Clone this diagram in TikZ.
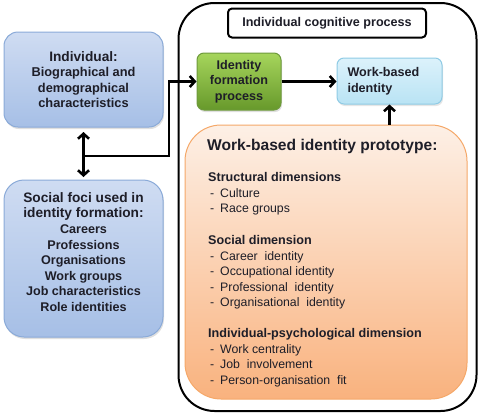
\documentclass[tikz,border=0pt]{standalone}
\usepackage{fontspec}
\setmainfont{Liberation Sans}
\usetikzlibrary{arrows.meta,calc,shadows}
\definecolor{txt}{HTML}{1E1E28}
\definecolor{bluetop}{HTML}{CFDCF2}
\definecolor{bluebot}{HTML}{A6BFE6}
\definecolor{blueline}{HTML}{8AAAD8}
\definecolor{greentop}{HTML}{A6D55C}
\definecolor{greenbot}{HTML}{67992B}
\definecolor{greenline}{HTML}{6E9A3C}
\definecolor{cyantop}{HTML}{DCF2FB}
\definecolor{cyanbot}{HTML}{B9E3F4}
\definecolor{cyanline}{HTML}{8FCBE5}
\definecolor{orangetop}{HTML}{FDF0E6}
\definecolor{orangebot}{HTML}{F9B27E}
\definecolor{orangeline}{HTML}{F5A869}
\tikzset{
  fs/.style={font=\fontsize{12.6}{15.6}\selectfont\bfseries},
  bluebox/.style={draw=blueline, line width=1pt, rounded corners=14pt,
    top color=bluetop, bottom color=bluebot, text=txt,
    drop shadow={shadow xshift=1pt, shadow yshift=-2pt, opacity=0.25}},
  greenbox/.style={draw=greenline, line width=1pt, rounded corners=7pt,
    top color=greentop, bottom color=greenbot, text=txt,
    drop shadow={shadow xshift=1pt, shadow yshift=-2pt, opacity=0.25}},
  cyanbox/.style={draw=cyanline, line width=1pt, rounded corners=7pt,
    top color=cyantop, bottom color=cyanbot, text=txt,
    drop shadow={shadow xshift=1pt, shadow yshift=-2pt, opacity=0.2}},
  orangebox/.style={draw=orangeline, line width=1pt, rounded corners=36pt,
    top color=orangetop, bottom color=orangebot},
  outerbox/.style={draw=black, line width=2pt, rounded corners=36pt},
  labelbox/.style={draw=black, line width=2pt, rounded corners=4pt, fill=white},
  conn/.style={line width=2.6pt, -{Straight Barb[length=5pt,width=11pt]}},
  dconn/.style={line width=2.6pt, {Straight Barb[length=5pt,width=11pt]}-{Straight Barb[length=5pt,width=11pt]}},
  ptitle/.style={anchor=base west, inner sep=0pt, text=txt, font=\fontsize{15.6}{18}\selectfont\bfseries},
  phead/.style={anchor=base west, inner sep=0pt, text=txt, font=\fontsize{12.6}{15}\selectfont\bfseries},
  pitem/.style={anchor=base west, inner sep=0pt, text=txt, font=\fontsize{12.3}{15}\selectfont},
}
\newcommand{\itm}[1]{\makebox[10pt][l]{-}#1}
\begin{document}
\begin{tikzpicture}[x=1pt,y=-1pt]
\useasboundingbox (0,0) rectangle (480,416);
% outer box
\node[outerbox, minimum width=298pt, minimum height=408pt] (outer) at (327.5,207) {};
\node[labelbox, minimum width=198pt, minimum height=29pt, fs, text=txt, inner sep=0pt] (lbl) at (327,23) {Individual cognitive process};
% left boxes
\node[bluebox, minimum width=159pt, minimum height=95pt, align=center, inner sep=0pt, fs] (ind) at (83.5,79.5)
  {{\fontsize{13.7}{15.6}\selectfont\bfseries Individual:}\\
   {\fontsize{12.8}{15.6}\selectfont\bfseries Biographical and}\\
   {\fontsize{12.8}{15.6}\selectfont\bfseries demographical}\\
   {\fontsize{12.8}{15.6}\selectfont\bfseries characteristics}};
\node[bluebox, minimum width=159pt, minimum height=157pt, rounded corners=20pt] (soc) at (83.5,258.5) {};
\node[align=center, inner sep=0pt, text=txt, fs] (soct) at (83.5,252)
  {{\fontsize{13.7}{15.6}\selectfont\bfseries Social foci used in}\\
   {\fontsize{13.7}{15.6}\selectfont\bfseries identity formation:}\\
   Careers\\ Professions\\ Organisations\\ Work groups\\ Job characteristics\\ Role identities};
% green and cyan
\node[greenbox, minimum width=84pt, minimum height=57pt, align=center, fs, inner sep=0pt] (green) at (239,81.5)
  {Identity\\ formation\\ process};
\node[cyanbox, minimum width=105pt, minimum height=46pt, align=left, fs, inner sep=0pt, text width=84pt] (cyan) at (389.5,81)
  {Work-based\\ identity};
% orange prototype
\node[orangebox, minimum width=282pt, minimum height=274pt] (proto) at (326,262) {};
\node[ptitle] (p0) at (207,150.5) {Work-based identity prototype:};
\node[phead] (p1) at (208,181.5) {Structural dimensions};
\node[pitem] (p2) at (210,197) {\itm{Culture}};
\node[pitem] (p3) at (210,212.5) {\itm{Race groups}};
\node[phead] (p4) at (208,244.5) {Social dimension};
\node[pitem] (p5) at (210,260) {\itm{Career\ \ identity}};
\node[pitem] (p6) at (210,275.5) {\itm{Occupational identity}};
\node[pitem] (p7) at (210,291) {\itm{Professional\ \ identity}};
\node[pitem] (p8) at (210,306.5) {\itm{Organisational\ \ identity}};
\node[phead] (p9) at (208,337.5) {Individual-psychological dimension};
\node[pitem] (p10) at (210,353) {\itm{Work centrality}};
\node[pitem] (p11) at (210,368.5) {\itm{Job\ \ involvement}};
\node[pitem] (p12) at (210,384) {\itm{Person-organisation\ \ fit}};
% connectors
\draw[conn] (green.east) -- (green.east -| cyan.west);
\draw[conn] (cyan.south |- proto.north) -- (cyan.south);
\draw[dconn, shorten <=4.5pt, shorten >=2.5pt] (ind.south) -- (soc.north);
\coordinate (j) at (83.5,156);
\coordinate (bend) at (169,81.5);
\draw[conn, line join=miter] (j) -| (bend) -- (green.west);
\end{tikzpicture}
\end{document}
